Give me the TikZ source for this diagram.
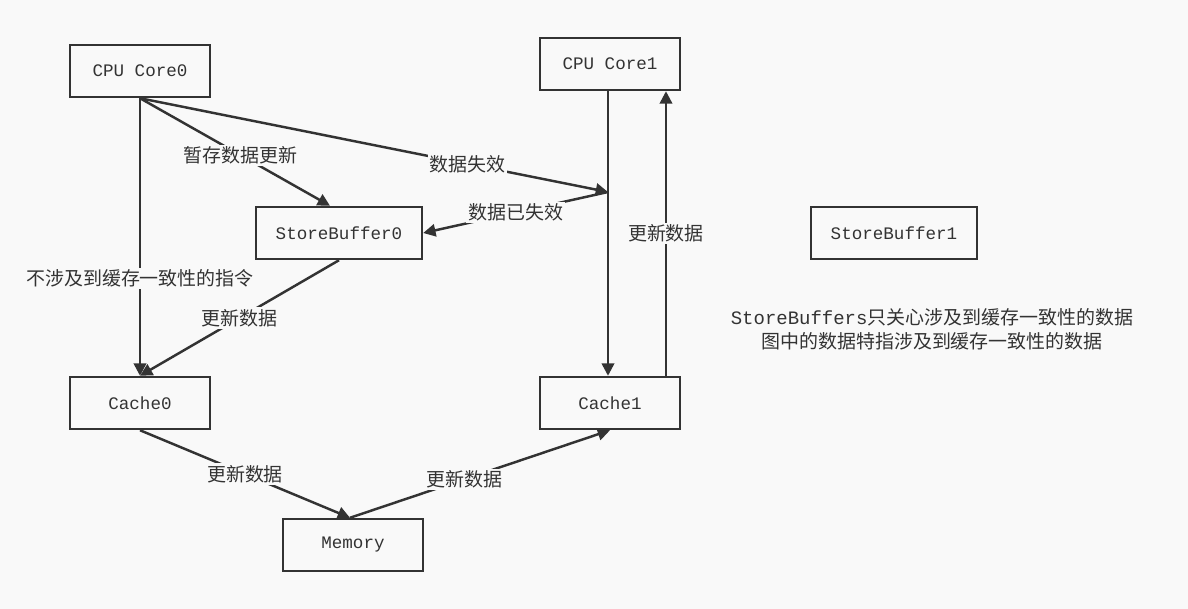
\documentclass[tikz,border=0pt]{standalone}
\usepackage{fontspec}
\setmainfont{Liberation Mono}
\newfontfamily\cjk{Noto Sans CJK SC}
\usetikzlibrary{arrows.meta, positioning}
\definecolor{bgc}{HTML}{F9F9F9}
\definecolor{ink}{HTML}{333333}

\begin{document}
\begin{tikzpicture}[x=0.02cm, y=-0.02cm,
		box/.style = {draw=ink, line width=1.4pt, minimum width=2.8cm, minimum height=1.04cm, font=\fontsize{10}{11}\selectfont, text=ink},
		wbox/.style = {box, minimum width=3.32cm},
		arr/.style = {draw=ink, line width=1.4pt, -{Triangle[length=7pt, width=7pt]}},
		lbl/.style = {fill=bgc, inner sep=1pt, font=\cjk\fontsize{10.8}{12}\selectfont, text=ink}
	]
	\fill[bgc] (0,0) rectangle (1188,609);

	\node[box]  (core0) at (140,71)  {CPU Core0};
	\node[box]  (core1) at (610,64)  {CPU Core1};
	\node[wbox] (sb0)   at (339,233) {StoreBuffer0};
	\node[wbox] (sb1)   at (894,233) {StoreBuffer1};
	\node[box]  (c0)    at (140,403) {Cache0};
	\node[box]  (c1)    at (610,403) {Cache1};
	\node[box]  (mem)   at (353,545) {Memory};

	\coordinate (inv) at (608,192);

	\draw[arr] (core0.south) -- node[lbl, pos=0.65] {不涉及到缓存一致性的指令} (c0.north);
	\draw[arr] (core0.south) -- node[lbl, pos=0.53] {暂存数据更新} ([xshift=-0.18cm]sb0.north);
	\draw[arr] (core0.south) -- node[lbl, pos=0.7] {数据失效} (inv);
	\draw[arr] ([xshift=-0.04cm]core1.south) -- ([xshift=-0.04cm]c1.north);
	\draw[arr] (inv) -- node[lbl, pos=0.5] {数据已失效} (sb0.east);
	\draw[arr] (sb0.south) -- node[lbl, pos=0.5] {更新数据} (c0.north);
	\draw[arr] ([xshift=1.12cm]c1.north) -- node[lbl, pos=0.5] {更新数据} ([xshift=1.12cm]core1.south);
	\draw[arr] (c0.south) -- node[lbl, pos=0.5] {更新数据} ([xshift=-0.06cm]mem.north);
	\draw[arr] ([xshift=-0.06cm]mem.north) -- node[lbl, pos=0.44] {更新数据} (c1.south);

	\node[font=\fontsize{10.8}{12}\selectfont, text=ink] (note1) at (932,317) {StoreBuffers{\cjk 只关心涉及到缓存一致性的数据}};
	\node[font=\cjk\fontsize{10.8}{12}\selectfont, text=ink] (note2) at (932,341) {图中的数据特指涉及到缓存一致性的数据};
\end{tikzpicture}
\end{document}
